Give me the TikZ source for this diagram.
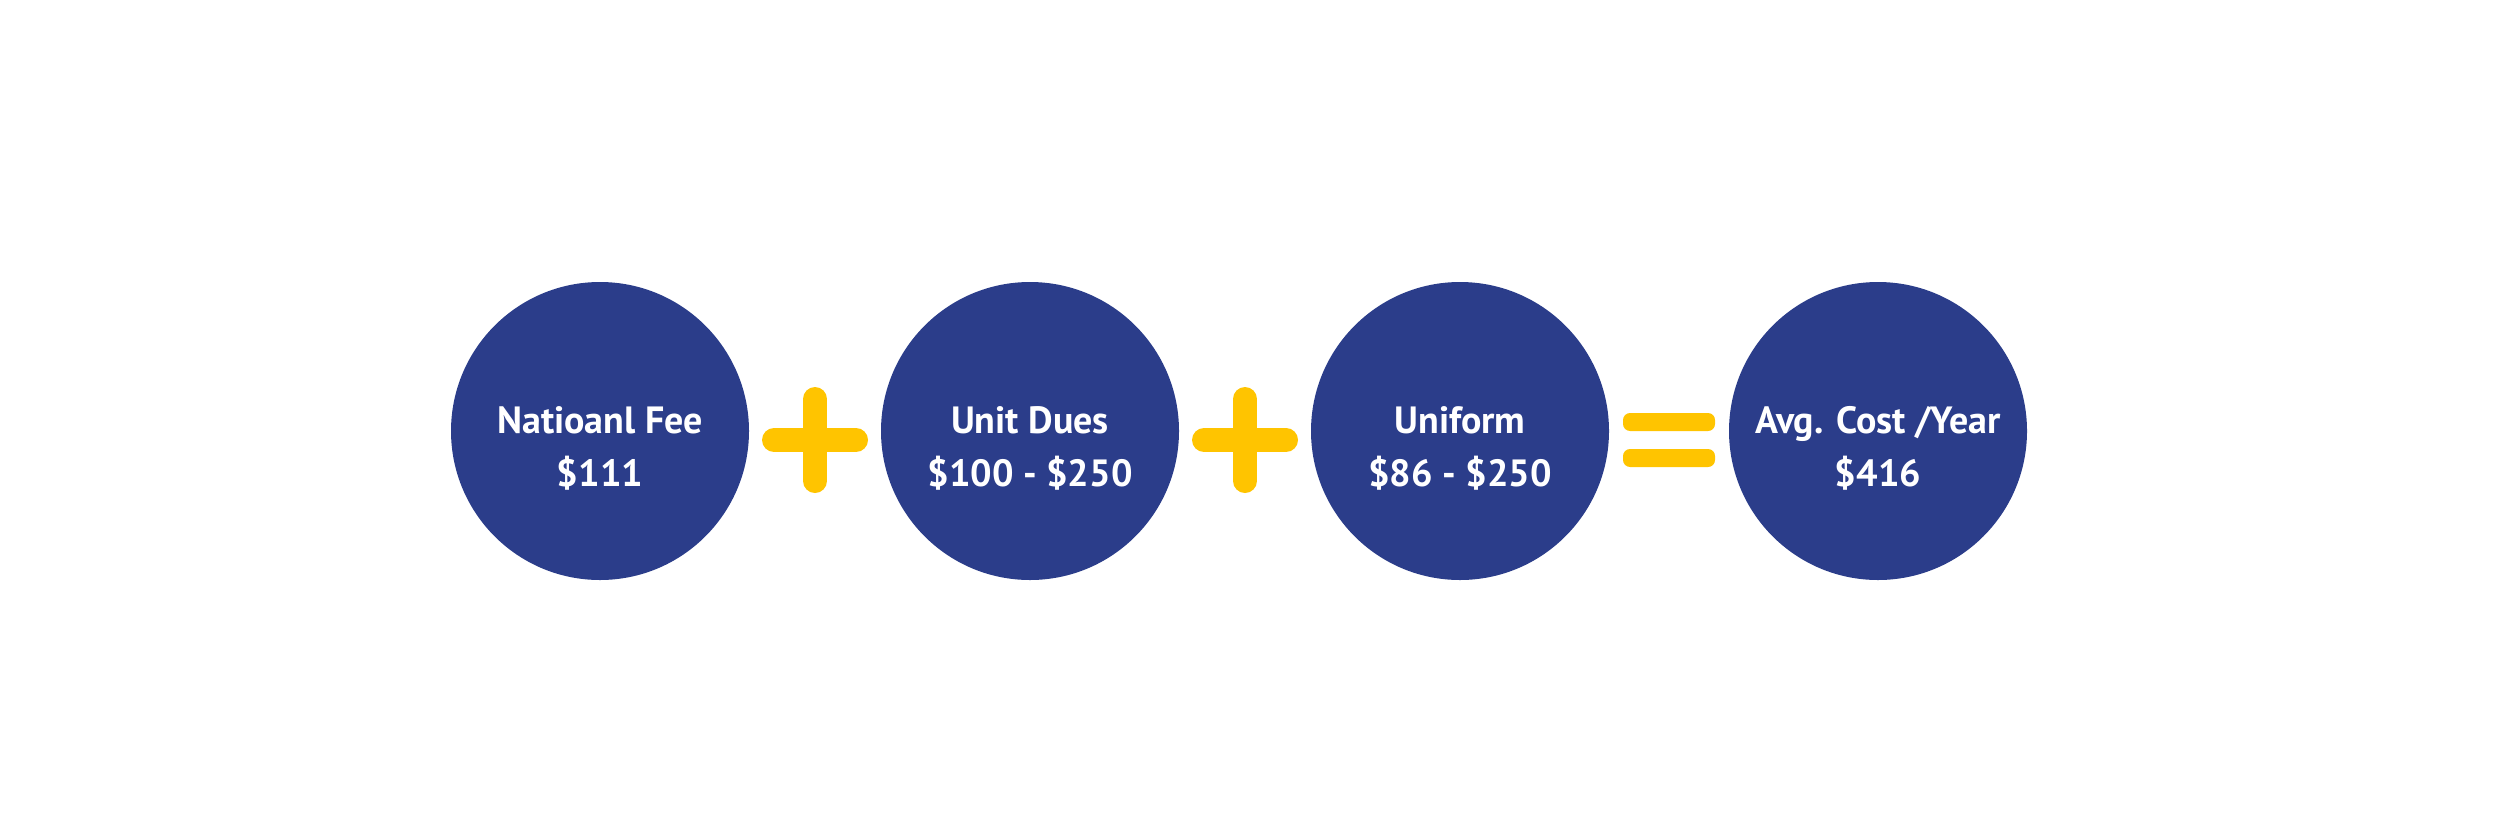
\documentclass[tikz,border=0pt]{standalone}
\usepackage{fontspec}
\setmainfont{PT Sans}
\usetikzlibrary{positioning,calc}

\definecolor{navy}{RGB}{43,61,138}
\definecolor{gold}{RGB}{255,196,0}

\begin{document}
\begin{tikzpicture}[
  cost/.style={
    circle, fill=navy, draw=none, minimum size=2.98cm, inner sep=0pt,
    align=center, text=white, text height=1.15cm,
    font=\fontsize{10.8}{15}\selectfont\bfseries
  },
  plusbar/.style={draw=gold, line width=0.24cm, line cap=round},
  eqbar/.style={fill=gold, rounded corners=2pt}
]
\useasboundingbox (0,0) rectangle (25,8.33);

\node[cost] (nf)  at (6.00,4.02)  {Natioanl Fee\\\$111};
\node[cost] (ud)  at (10.30,4.02) {Unit Dues\\\$100 - \$250};
\node[cost] (un)  at (14.60,4.02) {Uniform\\\$86 - \$250};
\node[cost] (avg) at (18.78,4.02) {Avg. Cost /Year\\\$416};

% operators between the circles
\coordinate (p1) at ($(nf)!0.5!(ud)+(0,-0.09)$);
\coordinate (p2) at ($(ud)!0.5!(un)+(0,-0.09)$);
\coordinate (eq) at ($(un)!0.5!(avg)$);

\foreach \p in {p1,p2}{
  \draw[plusbar] ([xshift=-0.41cm]\p) -- ([xshift=0.41cm]\p);
  \draw[plusbar] ([yshift=-0.41cm]\p) -- ([yshift=0.41cm]\p);
}
\fill[eqbar] ([xshift=-0.46cm,yshift=0.00cm]eq) rectangle ([xshift=0.46cm,yshift=0.18cm]eq);
\fill[eqbar] ([xshift=-0.46cm,yshift=-0.36cm]eq) rectangle ([xshift=0.46cm,yshift=-0.18cm]eq);

\end{tikzpicture}
\end{document}
